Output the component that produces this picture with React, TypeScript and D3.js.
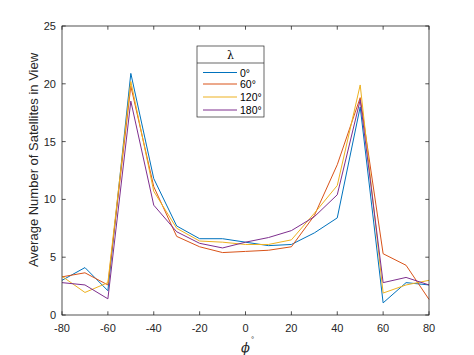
import React from "react";
import * as d3 from "d3";

const phi = [-80, -70, -60, -50, -40, -30, -20, -10, 0, 10, 20, 30, 40, 50, 60, 70, 80];
const lambda0 = [3.0, 4.1, 2.1, 20.9, 11.8, 7.7, 6.6, 6.6, 6.3, 6.0, 6.1, 7.1, 8.4, 18.0, 1.05, 2.8, 2.6];
const lambda60 = [3.3, 3.65, 2.6, 19.8, 11.1, 6.8, 5.9, 5.4, 5.5, 5.6, 5.9, 8.6, 13.0, 18.8, 5.3, 4.3, 1.35];
const lambda120 = [3.35, 1.95, 2.8, 20.2, 10.7, 7.5, 6.4, 6.3, 6.1, 6.1, 6.5, 8.8, 11.2, 19.9, 1.9, 2.6, 3.0];
const lambda180 = [2.8, 2.6, 1.4, 18.5, 9.5, 7.2, 6.2, 5.8, 6.3, 6.7, 7.3, 8.5, 10.4, 18.6, 2.8, 3.25, 2.6];
const seriesNames = ["0°", "60°", "120°", "180°"];
const seriesColors = ["#0072BD", "#D95319", "#EDB120", "#7E2F8E"];
const xTicks = [-80, -60, -40, -20, 0, 20, 40, 60, 80];
const yTicks = [0, 5, 10, 15, 20, 25];

const FONT = "'Liberation Sans', Arial, Helvetica, sans-serif";
const AX = "#262626";

export default function App() {
  const W = 474;
  const H = 355;
  const x = d3.scaleLinear().domain([-80, 80]).range([62, 429]);
  const y = d3.scaleLinear().domain([0, 25]).range([315, 26]);
  const series = [lambda0, lambda60, lambda120, lambda180];
  const line = d3
    .line<number>()
    .x((_, i) => x(phi[i]))
    .y((d) => y(d));
  const [x0, x1] = x.range();
  const [y0, y1] = y.range();
  const tl = 3.7;

  // legend geometry
  const lgX = 197;
  const lgY = 46;
  const lgW = 67;
  const lgH = 71;
  const rowY = [72.5, 84, 97, 110];

  return (
    <div style={{ position: "absolute", left: 0, top: 0, width: W, height: H, background: "#fff" }}>
      <svg width={W} height={H} style={{ display: "block" }} fontFamily={FONT}>
        <rect x={0} y={0} width={W} height={H} fill="#fff" />
        {series.map((s, i) => (
          <path key={i} d={line(s) || ""} fill="none" stroke={seriesColors[i]} strokeWidth={1} />
        ))}
        <rect x={x0} y={y1} width={x1 - x0} height={y0 - y1} fill="none" stroke={AX} strokeWidth={0.8} />
        {xTicks.map((t) => (
          <g key={"x" + t}>
            <line x1={x(t)} x2={x(t)} y1={y0} y2={y0 - tl} stroke={AX} strokeWidth={0.8} />
            <line x1={x(t)} x2={x(t)} y1={y1} y2={y1 + tl} stroke={AX} strokeWidth={0.8} />
            <text x={x(t)} y={y0 + 17} textAnchor="middle" fontSize={11} fill={AX}>
              {t}
            </text>
          </g>
        ))}
        {yTicks.map((t) => (
          <g key={"y" + t}>
            <line x1={x0} x2={x0 + tl} y1={y(t)} y2={y(t)} stroke={AX} strokeWidth={0.8} />
            <line x1={x1} x2={x1 - tl} y1={y(t)} y2={y(t)} stroke={AX} strokeWidth={0.8} />
            <text x={x0 - 6} y={y(t) + 4} textAnchor="end" fontSize={11} fill={AX}>
              {t}
            </text>
          </g>
        ))}
        <text
          transform={`translate(38,160) rotate(-90)`}
          textAnchor="middle"
          fontSize={13}
          fill={AX}
        >
          Average Number of Satellites in View
        </text>
        <text x={241} y={352} fontSize={13} fill={AX} fontStyle="italic" fontFamily="'DejaVu Serif', serif">
          ϕ
        </text>
        <text x={251} y={342} fontSize={8} fill={AX}>
          °
        </text>
        <rect x={lgX} y={lgY} width={lgW} height={lgH} fill="#fff" stroke={AX} strokeWidth={0.7} />
        <line x1={lgX} x2={lgX + lgW} y1={63} y2={63} stroke={AX} strokeWidth={0.7} />
        <text x={lgX + lgW / 2} y={59} textAnchor="middle" fontSize={11} fill="#000" fontFamily="'DejaVu Serif', serif">
          λ
        </text>
        {seriesNames.map((n, i) => (
          <g key={n}>
            <line x1={203} x2={237} y1={rowY[i]} y2={rowY[i]} stroke={seriesColors[i]} strokeWidth={1} />
            <text x={240} y={rowY[i] + 4} fontSize={10.5} fill="#000">
              {n}
            </text>
          </g>
        ))}
      </svg>
    </div>
  );
}
